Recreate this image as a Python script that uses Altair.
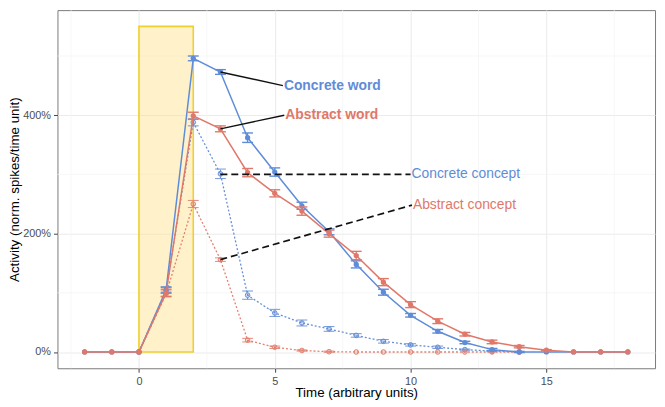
import altair as alt
import pandas as pd

# ---------------- data ----------------
t_word = list(range(-2, 19))
cw_val = [0, 0, 0, 105, 496, 473, 362, 304, 247, 203, 148, 101, 62, 35, 16, 4, 0, 0, 0, 0, 0]
cw_err = [0, 0, 0, 5, 4, 4, 8, 7, 6, 5, 6, 5, 3, 3, 2, 2, 1, 0, 0, 0, 0]
aw_val = [0, 0, 0, 100, 399, 377, 303, 268, 238, 200, 163, 118, 80, 52, 30, 17, 9, 3, 0, 0, 0]
aw_err = [0, 0, 0, 6, 6, 5, 7, 6, 7, 6, 7, 6, 5, 4, 3, 3, 2, 1, 0, 0, 0]

t_concept = list(range(0, 15))
cc_val = [0, 104, 388, 301, 96, 66, 49, 39, 28, 18, 12, 8, 4, 1.5, 0]
cc_err = [0, 5, 6, 8, 7, 6, 5, 4, 3, 3, 2, 2, 1, 1, 0]
ac_val = [0, 98, 250, 156, 20, 8, 2.5, 0.5, 0, 0, 0, 0, 0, 0, 0]
ac_err = [0, 5, 6, 3, 3, 2, 1, 1, 0, 0, 0, 0, 0, 0, 0]

series_names = ["Concrete concept", "Abstract concept", "Concrete word", "Abstract word"]
series_colors = ["#6790D8", "#E28070", "#5F8CD8", "#E0786A"]

# stimulus window
stim_x = [0]
stim_x2 = [2]
stim_y = [0]
stim_y2 = [550]

# annotations
ann_labels = ["Concrete word", "Abstract word", "Concrete concept", "Abstract concept"]
ann_from_x = [3, 3, 3, 3]
ann_from_y = [473, 377, 300, 156]
ann_to_x = [5.3, 5.35, 10.0, 10.05]
ann_to_y = [450, 400, 300, 248]

# axes
x_ticks = [0, 5, 10, 15]
y_ticks = [0, 200, 400]
x_minor = [-2.5, 2.5, 7.5, 12.5, 17.5]
y_minor = [100, 300, 500]

# ---------------- chart ----------------
FONT = "Liberation Sans"
xs = alt.Scale(domain=[-3, 19], nice=False, zero=False)
ys = alt.Scale(domain=[-27.5, 577.5], nice=False, zero=False)
xaxis = alt.Axis(values=x_ticks, title="Time (arbitrary units)", grid=True,
                 titleY=25, titleBaseline="middle")
yaxis = alt.Axis(values=y_ticks, title="Activity (norm. spikes/time unit)", grid=True,
                 labelExpr="datum.value + '%'",
                 titleX=-43, titleY=181, titleAngle=-90, titleAlign="center",
                 titleBaseline="middle")


def X(f):
    return alt.X(f, type="quantitative", scale=xs, axis=xaxis)


def Y(f):
    return alt.Y(f, type="quantitative", scale=ys, axis=yaxis)


layers = []

# minor gridlines
layers.append(alt.Chart(pd.DataFrame({"x": x_minor})).mark_rule(
    color="#F4F4F4", strokeWidth=0.7).encode(x=X("x")))
layers.append(alt.Chart(pd.DataFrame({"y": y_minor})).mark_rule(
    color="#F4F4F4", strokeWidth=0.7).encode(y=Y("y")))

# stimulus rectangle
rect_df = pd.DataFrame({"x": stim_x, "x2": stim_x2, "y": stim_y, "y2": stim_y2})
layers.append(alt.Chart(rect_df).mark_rect(
    fill="#FFE38A", fillOpacity=0.45, stroke="#F0D030", strokeWidth=1.6
).encode(x=X("x"), x2="x2", y=Y("y"), y2="y2"))

series_data = [
    (t_concept, cc_val, cc_err),
    (t_concept, ac_val, ac_err),
    (t_word, cw_val, cw_err),
    (t_word, aw_val, aw_err),
]

for i, (name, color, (ts, vals, errs)) in enumerate(zip(series_names, series_colors, series_data)):
    df = pd.DataFrame({"t": ts, "v": vals, "err": errs})
    df["lo"] = df["v"] - df["err"]
    df["hi"] = df["v"] + df["err"]
    df["series"] = name
    dotted = i < 2
    base = alt.Chart(df)
    if dotted:
        line = base.mark_line(color=color, strokeWidth=1.3, strokeDash=[2, 2])
    else:
        line = base.mark_line(color=color, strokeWidth=1.5)
    layers.append(line.encode(x=X("t"), y=Y("v")))
    eb = base.transform_filter("datum.err > 0")
    if dotted:
        rule = eb.mark_rule(color=color, strokeWidth=1.1, strokeDash=[2, 1.5])
    else:
        rule = eb.mark_rule(color=color, strokeWidth=1.3)
    layers.append(rule.encode(x=X("t"), y=Y("lo"), y2="hi"))
    for f in ["lo", "hi"]:
        layers.append(eb.mark_tick(orient="horizontal", size=11,
                                   thickness=1.1 if dotted else 1.4,
                                   color=color, opacity=0.85 if dotted else 1)
                      .encode(x=X("t"), y=Y(f)))
    if dotted:
        pts = base.mark_circle(size=22, fill=color, fillOpacity=0.3, stroke=color,
                               strokeWidth=1, opacity=1)
    else:
        pts = base.mark_circle(size=28, color=color, opacity=1)
    layers.append(pts.encode(x=X("t"), y=Y("v")))

# annotation connectors and labels
for i, lab in enumerate(ann_labels):
    seg = pd.DataFrame({"x": [ann_from_x[i]], "y": [ann_from_y[i]],
                        "x2": [ann_to_x[i]], "y2": [ann_to_y[i]], "label": [lab]})
    word = i < 2
    if word:
        r = alt.Chart(seg).mark_rule(color="#111111", strokeWidth=1.4)
    else:
        r = alt.Chart(seg).mark_rule(color="#111111", strokeWidth=1.7, strokeDash=[7, 4])
    layers.append(r.encode(x=X("x"), y=Y("y"), x2="x2", y2="y2"))
    color = series_colors[2] if lab.startswith("Concrete") else series_colors[3]
    layers.append(alt.Chart(seg).mark_text(
        align="left", baseline="middle", dx=1, fontSize=14, font=FONT,
        fontWeight="bold" if word else "normal", color=color
    ).encode(x=X("x2"), y=Y("y2"), text="label:N"))

chart = alt.layer(*layers).properties(
    width=604, height=362,
    autosize=alt.AutoSizeParams(type="none"),
    padding={"left": 50, "top": 0, "right": 2, "bottom": 37},
    background="white",
).configure_view(
    stroke="#7A7A7A", strokeWidth=1
).configure_axis(
    domain=False, ticks=True, tickColor="#444444", tickSize=4, tickWidth=1,
    labelColor="#4D4D4D", labelFontSize=11, labelFont=FONT, labelPadding=3,
    titleFont=FONT, titleFontSize=13.5, titleFontWeight="normal", titleColor="#000000",
    gridColor="#EBEBEB", gridWidth=1.1,
)

chart.save("out.html", embed_options={"renderer": "svg", "actions": False})
